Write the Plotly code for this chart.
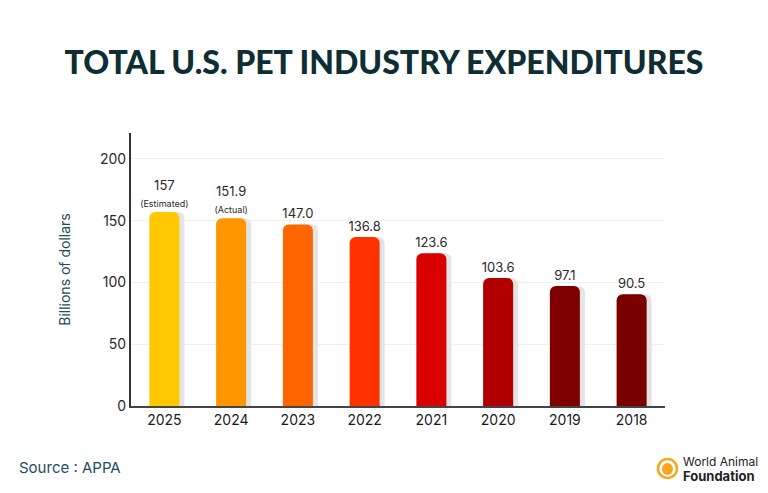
import plotly.graph_objects as go

years = ["2025", "2024", "2023", "2022", "2021", "2020", "2019", "2018"]
values = [157, 151.9, 147.0, 136.8, 123.6, 103.6, 97.1, 90.5]
value_labels = ["157", "151.9", "147.0", "136.8", "123.6", "103.6", "97.1", "90.5"]
notes = ["(Estimated)", "(Actual)", "", "", "", "", "", ""]
colors = ["#FFC800", "#FF9500", "#FF6600", "#FF3300", "#D90000", "#B00000", "#7E0000", "#7A0000"]
y_ticks = [0, 50, 100, 150, 200]

W, H = 768, 493
L, R, T, B = 131, 103, 133, 87
pw, ph = W - L - R, H - T - B

def px_x(px):
    return (px - L) / pw

def px_y(py):
    return (H - B - py) / ph

texts = []
for v, n in zip(value_labels, notes):
    if n:
        texts.append(f"{v}<br><span style='font-size:9px'>{n}</span>")
    else:
        texts.append(v)

fig = go.Figure()
# shadow bars
fig.add_trace(go.Bar(
    x=years, y=values, width=0.45, offset=-0.15,
    marker=dict(color="#E4E4E4", cornerradius=6, line=dict(width=0)),
    hoverinfo="skip", showlegend=False,
))
fig.add_trace(go.Bar(
    x=years, y=values, width=0.45, offset=-0.225,
    marker=dict(color=colors, cornerradius=6, line=dict(width=0)),
    text=texts, textposition="outside", cliponaxis=False, constraintext="none",
    textfont=dict(family="Inter, Open Sans, sans-serif", size=13, color="#2A2A2A"),
    showlegend=False,
))

fig.update_layout(
    width=W, height=H,
    margin=dict(l=L, r=R, t=T, b=B),
    paper_bgcolor="white", plot_bgcolor="white",
    barmode="overlay",
    font=dict(family="Inter, Open Sans, sans-serif", color="#222"),
    title=dict(
        text="TOTAL U.S. PET INDUSTRY EXPENDITURES",
        x=0.5, xanchor="center", y=1 - 63 / H, yanchor="middle",
        font=dict(family="Lato", size=32, color="#0E2E33", weight=900),
    ),
    xaxis=dict(
        showline=True, linecolor="#444", linewidth=2,
        tickfont=dict(size=14, color="#1A1A1A"), ticks="",
        showgrid=False,
    ),
    yaxis=dict(
        range=[0, 221], tickvals=y_ticks,
        showline=True, linecolor="#333", linewidth=2,
        showgrid=True, gridcolor="#F0F0F0", gridwidth=1,
        zeroline=False,
        tickfont=dict(size=14, color="#2A2A2A"), ticks="",
        title=dict(text="Billions of dollars", standoff=26,
                   font=dict(size=14, color="#1D4E5F")),
    ),
    annotations=[
        dict(text="Source : APPA", xref="paper", yref="paper",
             x=px_x(17), y=px_y(467), xanchor="left", yanchor="middle",
             showarrow=False, font=dict(size=15, color="#1D4E5F")),
        dict(text="World Animal", xref="paper", yref="paper",
             x=px_x(681), y=px_y(461), xanchor="left", yanchor="middle",
             showarrow=False, font=dict(size=12, color="#222")),
        dict(text="<b>Foundation</b>", xref="paper", yref="paper",
             x=px_x(681), y=px_y(476), xanchor="left", yanchor="middle",
             showarrow=False, font=dict(size=13, color="#222")),
    ],
    shapes=[
        dict(type="circle", xref="paper", yref="paper",
             x0=px_x(658), x1=px_x(677), y0=px_y(478), y1=px_y(459),
             line=dict(color="#F5A81C", width=2.5), fillcolor="rgba(0,0,0,0)"),
        dict(type="circle", xref="paper", yref="paper",
             x0=px_x(662), x1=px_x(673), y0=px_y(475), y1=px_y(463),
             line=dict(width=0), fillcolor="#F5A81C"),
    ],
)

fig.write_html("out.html", config={"displayModeBar": False},
               post_script="document.body.style.margin='0px';document.body.style.overflow='hidden';")
